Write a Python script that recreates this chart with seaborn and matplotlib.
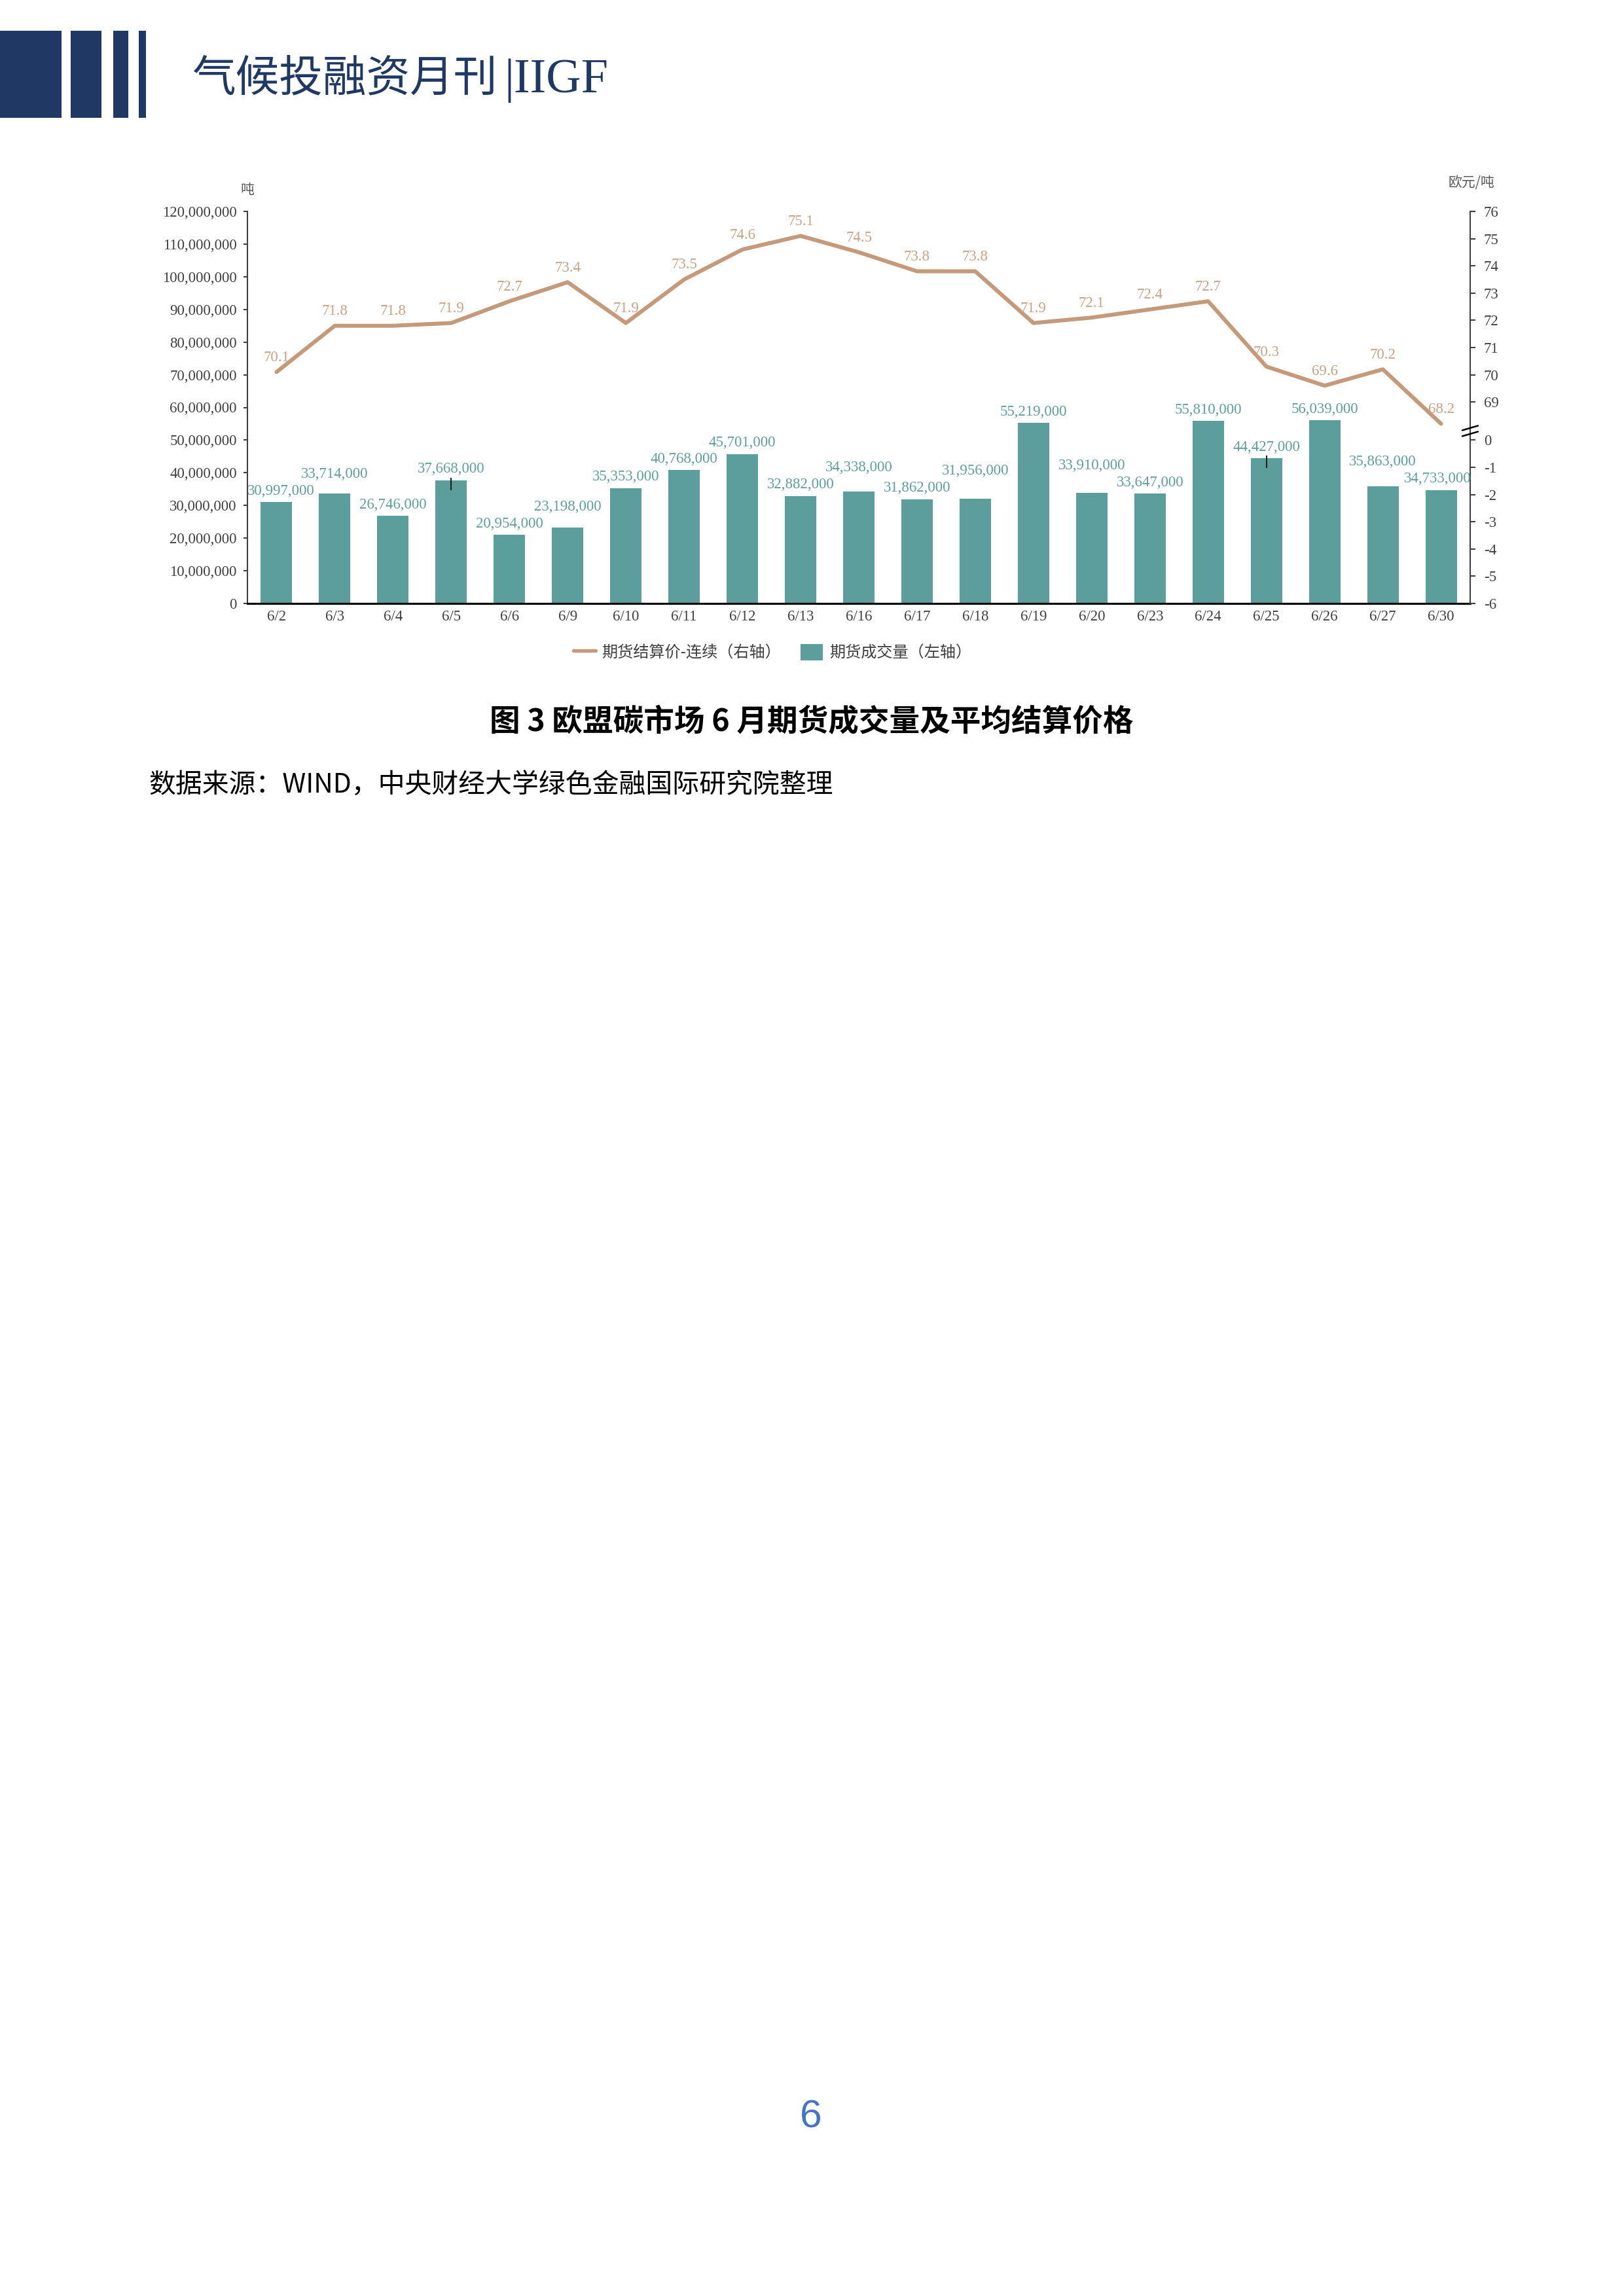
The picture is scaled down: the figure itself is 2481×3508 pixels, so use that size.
import numpy as np
import pandas as pd
import seaborn as sns
import matplotlib.pyplot as plt
from matplotlib.patches import Rectangle, Patch
from matplotlib.lines import Line2D
from matplotlib.ticker import FuncFormatter
from matplotlib.transforms import IdentityTransform

# ---- data ----
dates = ["6/2", "6/3", "6/4", "6/5", "6/6", "6/9", "6/10", "6/11", "6/12", "6/13",
         "6/16", "6/17", "6/18", "6/19", "6/20", "6/23", "6/24", "6/25", "6/26", "6/27", "6/30"]
volume = [30997000, 33714000, 26746000, 37668000, 20954000, 23198000, 35353000, 40768000,
          45701000, 32882000, 34338000, 31862000, 31956000, 55219000, 33910000, 33647000,
          55810000, 44427000, 56039000, 35863000, 34733000]
price = [70.1, 71.8, 71.8, 71.9, 72.7, 73.4, 71.9, 73.5, 74.6, 75.1, 74.5, 73.8, 73.8,
         71.9, 72.1, 72.4, 72.7, 70.3, 69.6, 70.2, 68.2]
left_ticks = list(range(0, 120000001, 10000000))
right_ticks = [-6, -5, -4, -3, -2, -1, 0, 69, 70, 71, 72, 73, 74, 75, 76]
leader_dates = ["6/5", "6/25"]

legend_labels = ["期货结算价-连续（右轴）", "期货成交量（左轴）"]
header = "气候投融资月刊"
header_latin = "|IIGF"
caption = "图 3 欧盟碳市场 6 月期货成交量及平均结算价格"
source = "数据来源：WIND，中央财经大学绿色金融国际研究院整理"

BAR = "#5b9e9c"
BAR_TXT = "#5e9e9b"
LINE = "#c49a7b"
LINE_TXT = "#c9a185"
AXC = "#404040"
NAVY = "#1f3864"
CJK = ["Noto Sans CJK SC", "DejaVu Sans"]

W, H, DPI = 2481, 3508, 300

sns.set_style("white")
plt.rcParams["font.family"] = ["Liberation Serif", "Noto Sans CJK SC"]


def fx(x):
    return x / W


def fy(y):
    return 1 - y / H


# broken right axis: 0..68 squeezed into a small gap
def fwd(v):
    v = np.asarray(v, dtype=float)
    return np.where(v >= 68, v - 67.6, np.where(v > 0, v * 0.4 / 68, v))


def inv(t):
    t = np.asarray(t, dtype=float)
    return np.where(t >= 0.4, t + 67.6, np.where(t > 0, t * 68 / 0.4, t))


fig = plt.figure(figsize=(W / DPI, H / DPI), dpi=DPI)

# header blocks + title
for x0, x1 in [(0, 94), (108, 155), (173, 196), (212, 223)]:
    fig.add_artist(Rectangle((fx(x0), fy(180)), (x1 - x0) / W, 133 / H,
                             transform=fig.transFigure, color=NAVY, lw=0))
fig.text(fx(293), fy(121), header, family=CJK, fontsize=16, color=NAVY, va="center", ha="left")
fig.text(fx(770), fy(123), header_latin, family="Liberation Serif", fontsize=17.8,
         color=NAVY, va="center", ha="left")

df = pd.DataFrame({"date": dates, "volume": volume, "price": price})

ax = fig.add_axes([fx(378), fy(922), (2246 - 378) / W, (922 - 323) / H])
sns.barplot(data=df, x="date", y="volume", color=BAR, saturation=1, width=0.54,
            linewidth=0, ax=ax)
ax.set_ylim(0, 120000000)
ax.set_yticks(left_ticks)
ax.yaxis.set_major_formatter(FuncFormatter(lambda v, p: f"{int(v):,}"))
ax.set_xlabel("")
ax.set_ylabel("")

ax2 = ax.twinx()
sns.lineplot(x=np.arange(len(dates)), y=price, ax=ax2, color=LINE, linewidth=1.45,
             estimator=None, sort=False)
ax2.set_yscale("function", functions=(fwd, inv))
ax2.set_ylim(-6, 76)
ax2.set_yticks(right_ticks)
ax2.set_yticklabels([str(t) for t in right_ticks])
ax.set_xlim(-0.5, len(dates) - 0.5)

for a in (ax, ax2):
    for s in a.spines.values():
        s.set_visible(False)
ax.spines["left"].set_visible(True)
ax.spines["left"].set_color(AXC)
ax.spines["left"].set_linewidth(0.5)
ax.spines["bottom"].set_visible(True)
ax.spines["bottom"].set_color("black")
ax.spines["bottom"].set_linewidth(0.75)
ax2.spines["right"].set_visible(True)
ax2.spines["right"].set_color(AXC)
ax2.spines["right"].set_linewidth(0.5)

ax.tick_params(axis="y", direction="out", length=1.5, width=0.5, color=AXC,
               labelcolor=AXC, labelsize=5.5, pad=2.4, left=True)
ax.tick_params(axis="x", length=0, pad=2.5, labelsize=5.5, labelcolor=AXC)
ax2.tick_params(axis="y", direction="out", length=2, width=0.5, color=AXC,
                labelcolor=AXC, labelsize=5.5, pad=3, right=True)

# price labels
for i, p in enumerate(price):
    ax2.annotate(f"{p:.1f}", (i, p), xytext=(0, 5.3), textcoords="offset points",
                 ha="center", va="center", fontsize=5.5, color=LINE_TXT)

# leader lines
for d in leader_dates:
    i = dates.index(d)
    ax.vlines(i, volume[i] - 3.0e6, volume[i] + 0.8e6, color="#222222", lw=0.5, zorder=5)

# bar labels with simple collision avoidance (like the spreadsheet did)
fig.canvas.draw()
renderer = fig.canvas.get_renderer()
tops = [ax.transData.transform((i, v)) for i, v in enumerate(volume)]
ys = [t[1] + 17 for t in tops]
for i in range(len(ys) - 1):
    if abs(ys[i] - ys[i + 1]) < 24:
        hi, lo = (i, i + 1) if ys[i] > ys[i + 1] else (i + 1, i)
        ys[hi] = ys[lo] + 26
abox = ax.get_window_extent(renderer)
for i, v in enumerate(volume):
    t = fig.text(tops[i][0], ys[i], f"{v:,}", transform=IdentityTransform(),
                 ha="center", va="center", fontsize=5.5, color=BAR_TXT)
    bb = t.get_window_extent(renderer)
    shift = 0
    if bb.x0 < abox.x0:
        shift = abox.x0 - bb.x0
    elif bb.x1 > abox.x1 + 2:
        shift = abox.x1 + 2 - bb.x1
    t.set_position((tops[i][0] + shift, ys[i]))

# axis break marker on the right axis
y0 = ax2.transData.transform((0, 0))[1]
y69 = ax2.transData.transform((0, 69))[1]
yc = y0 + 0.24 * (y69 - y0)
xr = abox.x1
for off in (-4.5, 4.5):
    fig.add_artist(Line2D([xr - 12, xr + 12], [yc + off - 3.5, yc + off + 3.5],
                          transform=IdentityTransform(), color="black", lw=0.6))

# unit labels
fig.text(fx(378), fy(290), "吨", family=CJK, fontsize=5, color="#595959", ha="center", va="center")
fig.text(fx(2248), fy(279), "欧元/吨", family=CJK, fontsize=5, color="#595959",
         ha="center", va="center")

# legend
handles = [Line2D([], [], color=LINE, lw=1.3, solid_capstyle="round"),
           Patch(facecolor=BAR, edgecolor="none")]
fig.legend(handles, legend_labels, loc="center", bbox_to_anchor=(fx(1180), fy(997)),
           ncol=2, frameon=False, prop={"family": CJK, "size": 5.8}, labelcolor=AXC,
           handlelength=1.4, handleheight=1.2, handletextpad=0.4, columnspacing=1.25)

# caption, source, page number
fig.text(fx(1240), fy(1103), caption, family=CJK, fontsize=11.2, fontweight="bold",
         ha="center", va="center", color="black")
fig.text(fx(227), fy(1200), source, family=CJK, fontsize=9.8, ha="left", va="center",
         color="black")
fig.text(fx(1239), fy(3235), "6", family="Liberation Sans", fontsize=14.5, ha="center",
         va="center", color="#4472c4")

fig.savefig("out.png", dpi=DPI)
